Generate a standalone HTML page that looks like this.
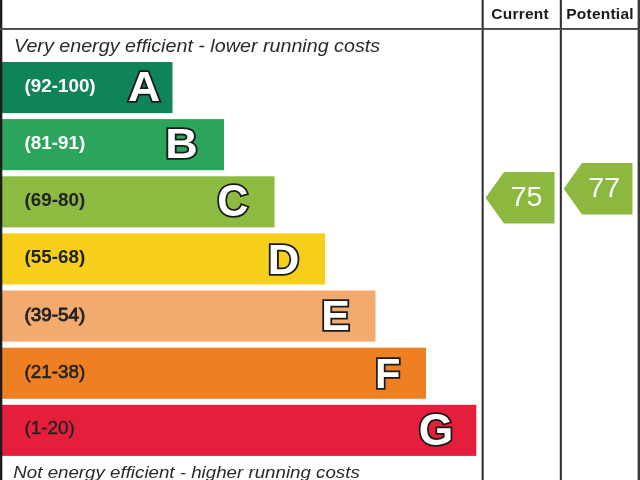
<!DOCTYPE html>
<html><head><meta charset="utf-8"><title>Energy Efficiency Rating</title>
<style>
html,body{margin:0;padding:0;background:#fff;}
body{width:640px;height:480px;overflow:hidden;position:relative;}
svg{display:block;position:absolute;left:-8px;top:-8px;filter:blur(0.5px);font-family:"Liberation Sans",Arial,Helvetica,sans-serif;}
.lbl{font-weight:bold;font-size:17.8px;}
.ltr{font-weight:bold;font-size:42.5px;fill:#fff;stroke:#1a1a1a;stroke-width:3.6px;paint-order:stroke fill;stroke-linejoin:miter;text-anchor:middle;}
.hdr{font-weight:bold;font-size:14px;fill:#1a1a1a;letter-spacing:0.2px;}
.it{font-style:italic;font-size:17.8px;fill:#2a2a2a;}
.num{font-size:27.2px;fill:#fff;text-anchor:middle;}
</style></head><body>
<svg width="656" height="496" viewBox="-8 -8 656 496">

<rect x="-8" y="-8" width="656" height="496" fill="#fff"/>

<rect x="0" y="62.0" width="172.5" height="51.1" fill="#108459"/>
<text class="lbl" transform="translate(24.5,92.0) scale(1.058,1)" fill="#fff">(92-100)</text>
<text class="ltr" transform="translate(144.0,100.8) scale(1.05,1)" style="font-size:42.5px">A</text>
<rect x="0" y="119.1" width="224" height="51.1" fill="#2aa55b"/>
<text class="lbl" transform="translate(24.5,149.1) scale(1.058,1)" fill="#fff">(81-91)</text>
<text class="ltr" transform="translate(181.5,158.2) scale(1.06,1)" style="font-size:42.5px">B</text>
<rect x="0" y="176.3" width="274.5" height="51.1" fill="#8dba41"/>
<text class="lbl" transform="translate(24.5,206.3) scale(1.058,1)" fill="#222">(69-80)</text>
<text class="ltr" transform="translate(232.9,216.1) scale(0.98,1)" style="font-size:44px">C</text>
<rect x="0" y="233.4" width="325" height="51.1" fill="#f7cf1a"/>
<text class="lbl" transform="translate(24.5,263.4) scale(1.058,1)" fill="#222">(55-68)</text>
<text class="ltr" transform="translate(283.7,274.2) scale(1.02,1)" style="font-size:43px">D</text>
<rect x="0" y="290.5" width="375.5" height="51.1" fill="#f3aa6e"/>
<text class="lbl" transform="translate(24.5,320.5) scale(1.058,1)" fill="#222" style="font-weight:normal;stroke:#222;stroke-width:0.85px">(39-54)</text>
<text class="ltr" transform="translate(335.5,329.8) scale(1.01,1)" style="font-size:42.5px">E</text>
<rect x="0" y="347.7" width="426" height="51.1" fill="#ee8023"/>
<text class="lbl" transform="translate(24.5,377.5) scale(1.058,1)" fill="#222" style="font-weight:normal;stroke:#222;stroke-width:0.55px">(21-38)</text>
<text class="ltr" transform="translate(387.8,387.9) scale(0.98,1)" style="font-size:42.5px">F</text>
<rect x="0" y="404.8" width="476.3" height="51.1" fill="#e51e3b"/>
<text class="lbl" transform="translate(24.5,434.3) scale(1.058,1)" fill="#222" style="font-weight:normal;stroke:#222;stroke-width:0.3px">(1-20)</text>
<text class="ltr" transform="translate(436.0,445.0) scale(1.02,1)" style="font-size:43.5px">G</text>
<rect x="-8" y="-8" width="10.3" height="496" fill="#1c1c1c"/>
<rect x="637.6" y="-8" width="10.4" height="496" fill="#3a3a3a"/>
<rect x="481.6" y="-8" width="2.1" height="496" fill="#333"/>
<rect x="559.8" y="-8" width="2.1" height="496" fill="#333"/>
<rect x="-8" y="28" width="656" height="1.9" fill="#4a4a4a"/>
<text class="hdr" transform="translate(491.3,18.9) scale(1.108,1)">Current</text>
<text class="hdr" transform="translate(566.3,18.9) scale(1.108,1)">Potential</text>
<text class="it" transform="translate(14.0,51.6) scale(1.108,1)">Very energy efficient - lower running costs</text>
<text class="it" transform="translate(13.3,477.9) scale(1.108,1)" style="font-size:16.9px">Not energy efficient - higher running costs</text>
<polygon points="485.5,197.7 504,172 554.5,172 554.5,223.5 504,223.5" fill="#8cb840"/>
<text class="num" transform="translate(526.6,205.5) scale(1.05,1)">75</text>
<polygon points="563.7,188.7 582,163 632.5,163 632.5,214.5 582,214.5" fill="#8cb840"/>
<text class="num" transform="translate(604.2,196.7) scale(1.05,1)">77</text>
</svg>
</body></html>
